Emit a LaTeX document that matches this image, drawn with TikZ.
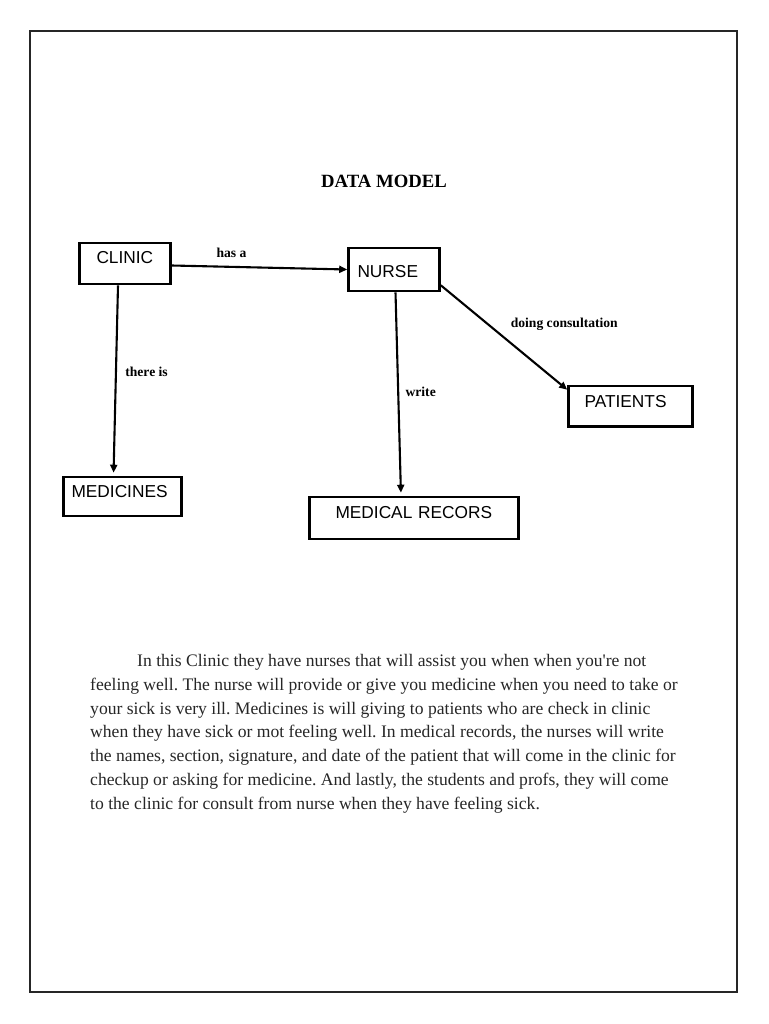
\documentclass[tikz,border=0pt]{standalone}
\usepackage{fontspec}
\setmainfont{Liberation Serif}
\setsansfont{Liberation Sans}
\usetikzlibrary{arrows.meta}

\begin{document}
\begin{tikzpicture}[x=1pt,y=-1pt]
\tikzstyle{entity}=[draw, line width=2.6pt, inner ysep=0pt, align=left,
                    font=\sffamily\fontsize{17.3}{20}\selectfont]
\tikzstyle{link}=[line width=2.1pt, -{Triangle[length=8pt,width=7pt]}]
\tikzstyle{tag}=[font=\bfseries\fontsize{13.6}{16}\selectfont]
\useasboundingbox (0,0) rectangle (768,1024);
\draw[line width=1.2pt, black!85] (30,31) rectangle (737,992);

\node[font=\bfseries\fontsize{18.7}{22}\selectfont] (title) at (384,181) {DATA MODEL};

% entities
\node[entity, inner xsep=17pt, text width=57pt, text height=20pt, text depth=21pt] (clinic) at (125,263.5) {CLINIC};
\node[entity, inner xsep=9pt, text width=73pt, text height=29pt, text depth=14pt] (nurse) at (394,269.5) {NURSE};
\node[entity, inner xsep=8pt, text width=102pt, text height=20pt, text depth=19pt] (medicines) at (122.5,496.5) {MEDICINES};
\node[entity, inner xsep=26pt, text width=157pt, text height=21pt, text depth=21pt] (records) at (414,518) {MEDICAL RECORS};
\node[entity, inner xsep=16pt, text width=92pt, text height=21pt, text depth=19.5pt] (patients) at (630.5,406.25) {PATIENTS};

% relations
\draw[link] ([yshift=-2pt]clinic.east) -- (nurse.west)
    node[tag, pos=0.34, above=4.5pt] {has a};
\draw[link, shorten >=3pt] ([xshift=-7pt]clinic.south) -- ([xshift=-9pt]medicines.north)
    node[tag, pos=0.455, anchor=west, xshift=5pt] {there is};
\draw[link, shorten >=3pt] ([xshift=1.5pt]nurse.south) -- ([xshift=-13pt]records.north)
    node[tag, pos=0.49, anchor=west, xshift=3pt] {write};
\draw[link] ([yshift=7pt]nurse.south east) -- ([yshift=-5pt]patients.north west)
    node[tag, pos=0.377, anchor=west, xshift=18pt] {doing consultation};

% description
\node[anchor=north west, inner sep=0pt, align=left, text=black!85,
      font=\frenchspacing\fontsize{17.6}{23.8}\selectfont] (notes) at (90,654)
{\hspace*{47pt}In this Clinic they have nurses that will assist you when when you\textquotesingle re not\\
feeling well. The nurse will provide or give you medicine when you need to take or\\
your sick is very ill. Medicines is will giving to patients who are check in clinic\\
when they have sick or mot feeling well. In medical records, the nurses will write\\
the names, section, signature, and date of the patient that will come in the clinic for\\
checkup or asking for medicine. And lastly, the students and profs, they will come\\
to the clinic for consult from nurse when they have feeling sick.};
\end{tikzpicture}
\end{document}
